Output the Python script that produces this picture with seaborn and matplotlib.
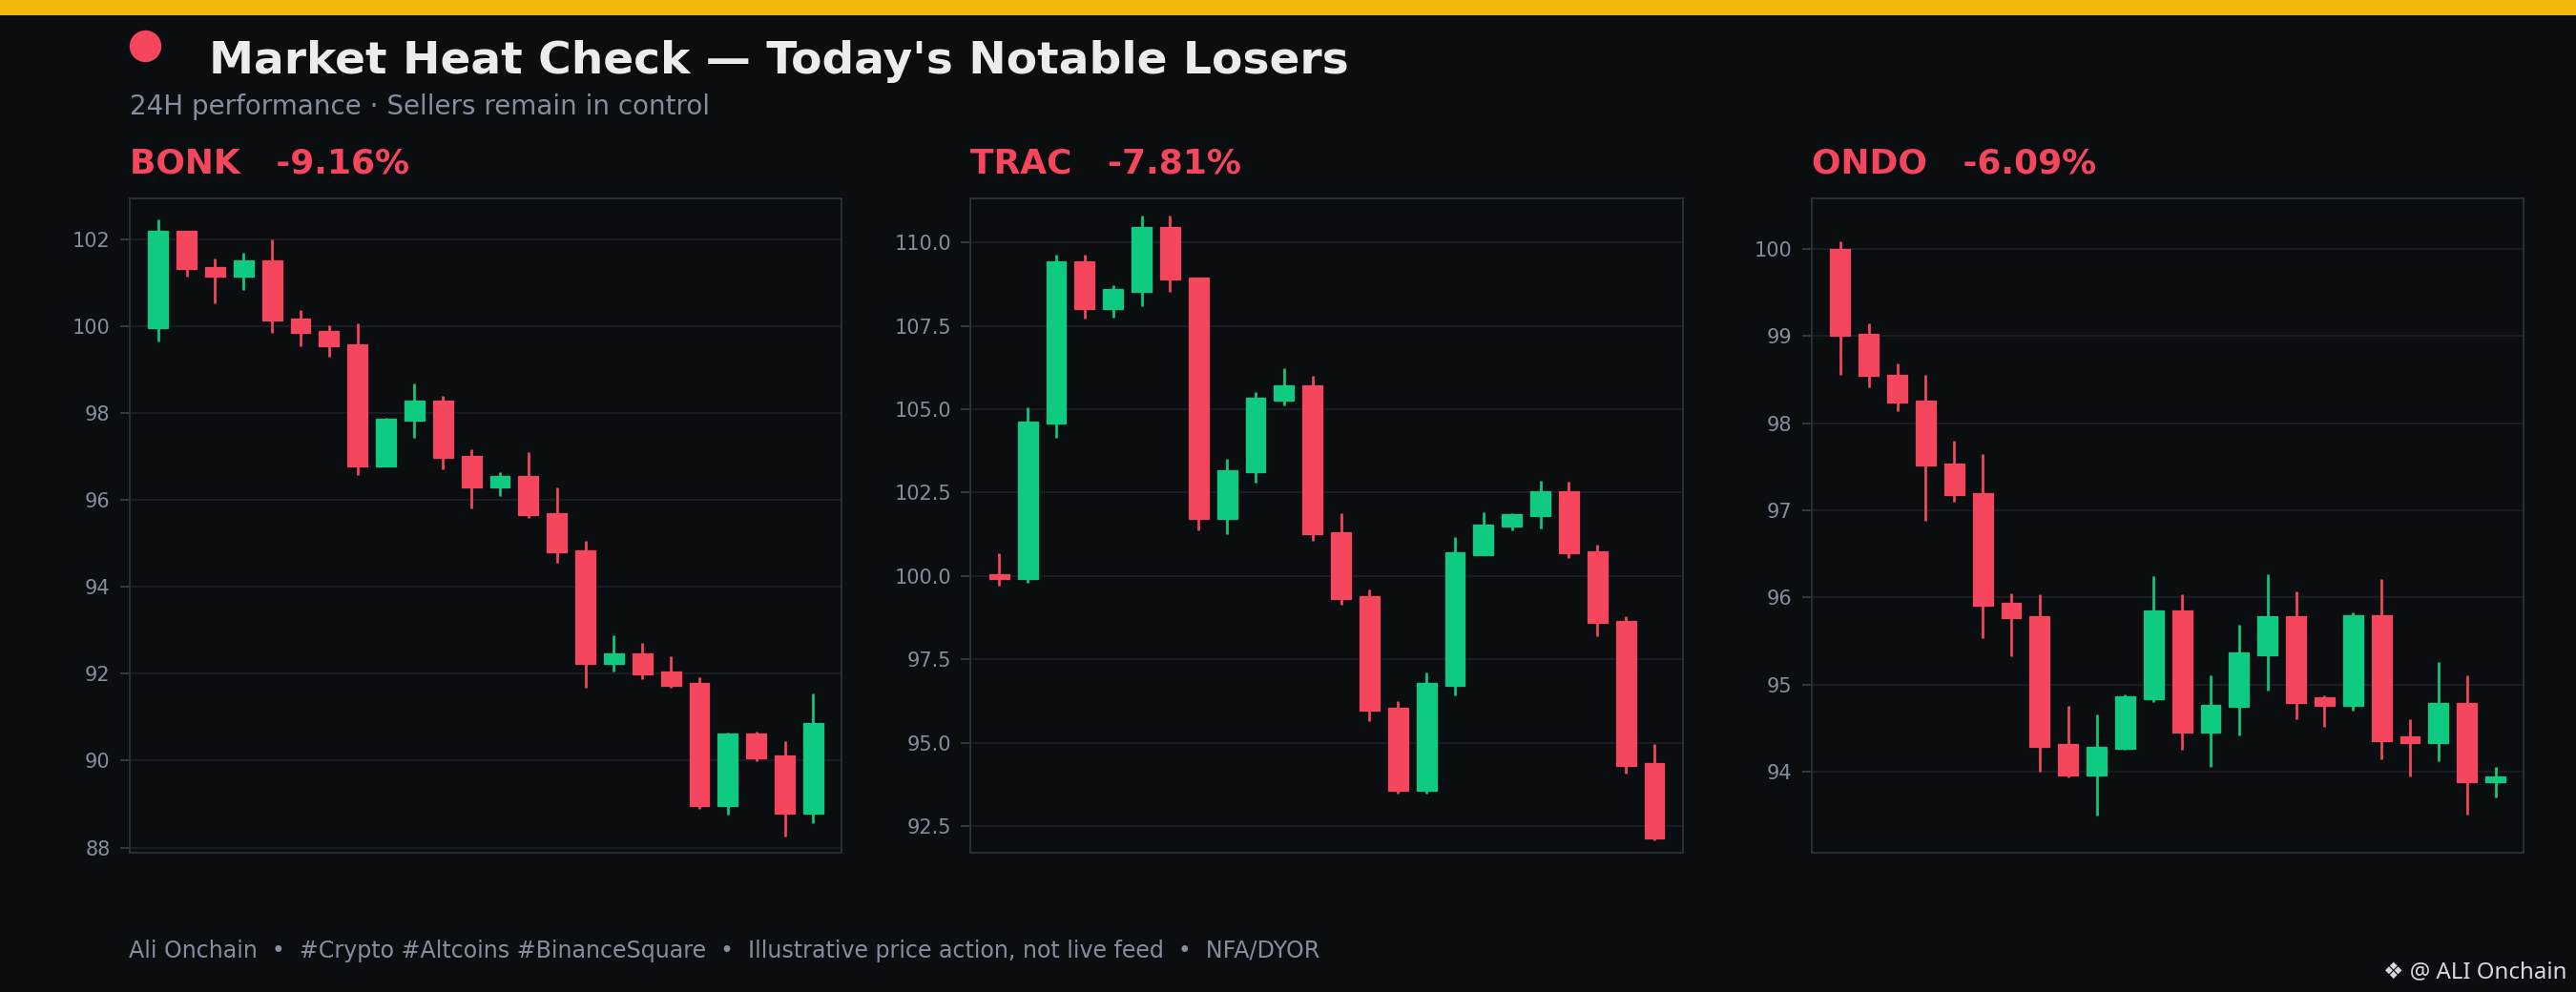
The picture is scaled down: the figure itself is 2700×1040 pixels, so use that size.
import pandas as pd
import matplotlib
matplotlib.use("Agg")
import matplotlib.pyplot as plt
import seaborn as sns

# Colors
BG = "#0b0e11"
UP = "#0ecb81"
DOWN = "#f6465d"
GRID = "#1c2127"
SPINE = "#2b3139"
MUTED = "#848e9c"
TEXT = "#eaecef"
YELLOW = "#f0b90b"

coins = ["BONK", "TRAC", "ONDO"]
changes = ["-9.16%", "-7.81%", "-6.09%"]

# BONK candles
bonk_open = [99.96, 102.19, 101.37, 101.14, 101.52, 100.18, 99.89, 99.59, 96.77, 97.82, 98.29, 97.01,
             96.28, 96.56, 95.70, 94.84, 92.23, 92.46, 92.05, 91.79, 88.96, 90.62, 90.11, 88.78]
bonk_close = [102.19, 101.32, 101.14, 101.52, 100.13, 99.85, 99.54, 96.77, 97.87, 98.29, 96.96, 96.28,
              96.56, 95.65, 94.79, 92.23, 92.46, 91.99, 91.73, 88.96, 90.62, 90.06, 88.78, 90.86]
bonk_high = [102.45, 102.19, 101.56, 101.69, 101.99, 100.38, 100.03, 100.06, 97.90, 98.67, 98.40, 97.17,
             96.63, 97.09, 96.29, 95.06, 92.89, 92.71, 92.40, 91.92, 90.64, 90.67, 90.44, 91.55]
bonk_low = [99.64, 101.14, 100.53, 100.84, 99.85, 99.54, 99.29, 96.57, 96.77, 97.44, 96.71, 95.80,
            96.08, 95.58, 94.55, 91.67, 92.04, 91.88, 91.67, 88.89, 88.76, 89.99, 88.25, 88.56]

# TRAC candles
trac_open = [100.04, 99.92, 104.57, 109.42, 108.00, 108.51, 110.45, 108.96, 101.72, 103.11, 105.25, 105.72,
             101.32, 99.39, 96.04, 93.57, 96.71, 100.63, 101.47, 101.79, 102.54, 100.74, 98.64, 94.38]
trac_close = [99.92, 104.63, 109.42, 108.00, 108.59, 110.45, 108.89, 101.72, 103.17, 105.33, 105.72, 101.24,
              99.32, 95.97, 93.57, 96.79, 100.71, 101.54, 101.84, 102.54, 100.67, 98.58, 94.30, 92.13]
trac_high = [100.68, 105.07, 109.62, 109.62, 108.71, 110.80, 110.80, 108.96, 103.51, 105.50, 106.24, 106.01,
             101.88, 99.59, 96.24, 97.11, 101.17, 101.91, 101.88, 102.86, 102.83, 100.93, 98.79, 94.95]
trac_low = [99.72, 99.80, 104.14, 107.71, 107.74, 108.08, 108.51, 101.37, 101.26, 102.79, 105.11, 101.04,
            99.14, 95.66, 93.48, 93.48, 96.42, 100.61, 101.37, 101.43, 100.53, 98.20, 94.07, 92.07]

# ONDO candles
ondo_open = [100.00, 99.03, 98.56, 98.26, 97.54, 97.20, 95.94, 95.79, 94.32, 93.96, 94.26, 94.83,
             95.85, 94.45, 94.74, 95.34, 95.79, 94.85, 94.76, 95.80, 94.41, 94.33, 94.79, 93.88]
ondo_close = [99.00, 98.54, 98.24, 97.51, 97.18, 95.91, 95.76, 94.29, 93.96, 94.29, 94.86, 95.85,
              94.45, 94.77, 95.37, 95.79, 94.79, 94.76, 95.80, 94.35, 94.33, 94.79, 93.88, 93.95]
ondo_high = [100.09, 99.15, 98.69, 98.56, 97.80, 97.65, 96.05, 96.04, 94.76, 94.66, 94.89, 96.25,
             96.04, 95.11, 95.69, 96.27, 96.07, 94.88, 95.83, 96.21, 94.60, 95.26, 95.11, 94.06]
ondo_low = [98.55, 98.41, 98.14, 96.88, 97.10, 95.53, 95.32, 94.00, 93.93, 93.50, 94.25, 94.80,
            94.25, 94.05, 94.42, 94.93, 94.60, 94.52, 94.70, 94.14, 93.95, 94.12, 93.51, 93.71]

y_limits = [(87.88, 102.94), (91.70, 111.32), (93.07, 100.58)]

frames = []
for o, h, l, c in [(bonk_open, bonk_high, bonk_low, bonk_close),
                   (trac_open, trac_high, trac_low, trac_close),
                   (ondo_open, ondo_high, ondo_low, ondo_close)]:
    d = pd.DataFrame({"open": o, "high": h, "low": l, "close": c})
    d["x"] = range(len(d))
    d["up"] = d["close"] >= d["open"]
    frames.append(d)

sns.set_theme(style="dark", rc={
    "axes.facecolor": BG, "figure.facecolor": BG,
    "axes.edgecolor": SPINE, "grid.color": GRID,
    "text.color": TEXT, "ytick.color": MUTED,
})
plt.rcParams["font.family"] = ["DejaVu Sans"]

fig, axes = plt.subplots(1, 3, figsize=(18, 1040 / 150), dpi=150)
fig.subplots_adjust(left=0.0503, right=0.9798, bottom=0.1404, top=0.800, wspace=0.181)

for ax, d, coin, chg, lim in zip(axes, frames, coins, changes, y_limits):
    colors = d["up"].map({True: UP, False: DOWN})
    ax.vlines(d["x"], d["low"], d["high"], colors=colors, linewidth=1.3, zorder=2)
    body_lo = d[["open", "close"]].min(axis=1)
    body_h = (d["close"] - d["open"]).abs()
    ax.bar(d["x"], body_h, bottom=body_lo, width=0.7, color=colors,
           edgecolor=colors, linewidth=0.6, zorder=3)
    ax.set_xlim(-1, len(d))
    ax.set_ylim(*lim)
    ax.set_xticks([])
    ax.yaxis.grid(True, color=GRID, linewidth=0.8)
    ax.xaxis.grid(False)
    for s in ax.spines.values():
        s.set_visible(True)
        s.set_color(SPINE)
        s.set_linewidth(0.9)
    ax.tick_params(axis="y", left=True, length=4.8, width=0.8, color="#3a4049",
                   labelsize=10, labelcolor=MUTED, pad=5)
    ax.text(0, 1.038, f"{coin}   {chg}", transform=ax.transAxes, color=DOWN,
            fontsize=17.3, fontweight="bold", va="baseline", ha="left")

# top accent bar
fig.patches.append(plt.Rectangle((0, 1 - 15 / 1040), 1, 15 / 1040, transform=fig.transFigure,
                                 color=YELLOW, zorder=5))

# header
fig.lines.append(plt.Line2D([151.5 / 2700], [1 - 48 / 1040], marker="o", markersize=15,
                            color=DOWN, transform=fig.transFigure))
fig.text(219 / 2700, 1 - 77 / 1040, "Market Heat Check — Today's Notable Losers",
         fontsize=22.6, fontweight="bold", color=TEXT, va="baseline")
fig.text(136 / 2700, 1 - 120 / 1040, "24H performance · Sellers remain in control",
         fontsize=13.3, color=MUTED, va="baseline")

# footer
fig.text(135 / 2700, 1 - 1004 / 1040,
         "Ali Onchain  •  #Crypto #Altcoins #BinanceSquare  •  Illustrative price action, not live feed  •  NFA/DYOR",
         fontsize=11.4, color=MUTED, va="baseline")
fig.text(2690 / 2700, 1 - 1025 / 1040, "❖ @ ALI Onchain", fontsize=11.5, color="#d5d8dd",
         ha="right", va="baseline", family=["Noto Sans", "DejaVu Sans"])

fig.savefig("out.png", dpi=150, facecolor=BG)
